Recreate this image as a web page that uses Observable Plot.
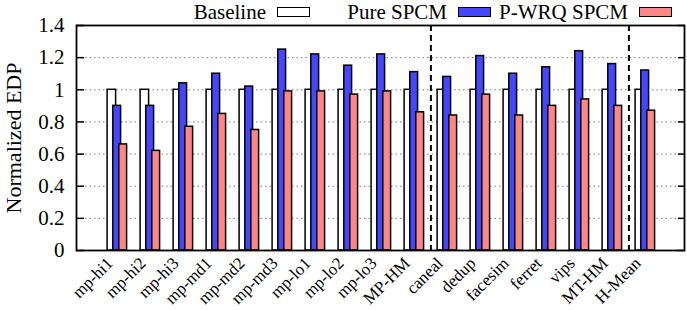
<!DOCTYPE html>
<html>
<head>
<meta charset="utf-8">
<script src="https://cdn.jsdelivr.net/npm/d3@7"></script>
<script src="https://cdn.jsdelivr.net/npm/@observablehq/plot@0.6"></script>
<style>
  body { margin: 0; background: #fff; }
  #wrap { position: relative; width: 687px; height: 310px; font-family: "Liberation Serif", "Times New Roman", serif; }
  #legend { position: absolute; left: 129px; top: 0px; display: flex; }
  .entry { width: 181px; display: flex; align-items: center; justify-content: flex-end; height: 24px; font-size: 21px; color: #000; }
  .entry .sw { width: 31px; height: 8px; border: 1.5px solid #000; margin-left: 11px; }
</style>
</head>
<body>
<div id="wrap"><div id="legend"></div></div>
<script>
const categories = ["mp-hi1","mp-hi2","mp-hi3","mp-md1","mp-md2","mp-md3","mp-lo1","mp-lo2","mp-lo3","MP-HM","caneal","dedup","facesim","ferret","vips","MT-HM","H-Mean"];
const seriesNames = ["Baseline", "Pure SPCM", "P-WRQ SPCM"];
const seriesColors = ["#ffffff", "#4646ff", "#ff8686"];
const baseline = [1,1,1,1,1,1,1,1,1,1,1,1,1,1,1,1,1];
const pureSPCM = [0.90,0.90,1.04,1.10,1.02,1.25,1.22,1.15,1.22,1.11,1.08,1.21,1.10,1.14,1.24,1.16,1.12];
const pwrqSPCM = [0.66,0.62,0.77,0.85,0.75,0.99,0.99,0.97,0.99,0.86,0.84,0.97,0.84,0.90,0.94,0.90,0.87];
const yTicks = [0,0.2,0.4,0.6,0.8,1,1.2,1.4];
const gridTicks = [0.2,0.4,0.6,0.8,1,1.2];
const separators = ["MP-HM","MT-HM"];
const yLabel = "Normalized EDP";

const rows = (vals) => categories.map((c, i) => ({cat: c, v: vals[i]}));
const barStyle = {stroke: "#000", strokeWidth: 1.5};

const chart = Plot.plot({
  width: 687,
  height: 310,
  marginTop: 25,
  marginBottom: 60,
  marginLeft: 76,
  marginRight: 3,
  style: {fontFamily: "'Liberation Serif', 'Times New Roman', serif", fontSize: "21px", background: "#fff", color: "#000"},
  x: {domain: categories, paddingInner: 0, paddingOuter: 0.5, align: 0.5},
  y: {domain: [0, 1.4]},
  marks: [
    Plot.gridY(gridTicks, {stroke: "#777", strokeOpacity: 1, strokeDasharray: "1.5,3", strokeWidth: 1}),
    Plot.rectY(rows(baseline), {x: "cat", y: "v", fill: seriesColors[0], ...barStyle, insetLeft: 7.1, insetRight: 17.4}),
    Plot.rectY(rows(pureSPCM), {x: "cat", y: "v", fill: seriesColors[1], ...barStyle, insetLeft: 12.8, insetRight: 12.4}),
    Plot.rectY(rows(pwrqSPCM), {x: "cat", y: "v", fill: seriesColors[2], ...barStyle, insetLeft: 18.8, insetRight: 6.4}),
    Plot.ruleX(separators, {stroke: "#000", strokeWidth: 2, strokeDasharray: "6,4", dx: 16.9}),
    Plot.axisY(yTicks, {anchor: "left", tickSize: 0, tickPadding: 12, fontSize: 21, label: null, tickFormat: d => String(d)}),
    Plot.axisY(yTicks, {anchor: "left", tickSize: 8, dx: 8, text: null, label: null, strokeWidth: 1.5}),
    Plot.axisY(yTicks, {anchor: "right", tickSize: 7, dx: -7, text: null, label: null, strokeWidth: 1.5}),
    Plot.axisX({anchor: "bottom", tickSize: 0, tickPadding: 10, tickRotate: -45, fontSize: 17, dx: -7, label: null}),
    Plot.text([yLabel], {text: d => d, frameAnchor: "left", textAnchor: "middle", rotate: -90, dx: -63, fontSize: 22}),
    Plot.frame({stroke: "#000", strokeWidth: 1.8})
  ]
});
document.getElementById("wrap").appendChild(chart);

const legend = document.getElementById("legend");
seriesNames.forEach((name, i) => {
  const e = document.createElement("div");
  e.className = "entry";
  const t = document.createElement("span");
  t.textContent = name;
  const sw = document.createElement("div");
  sw.className = "sw";
  sw.style.background = seriesColors[i];
  e.appendChild(t);
  e.appendChild(sw);
  legend.appendChild(e);
});
</script>
</body>
</html>
